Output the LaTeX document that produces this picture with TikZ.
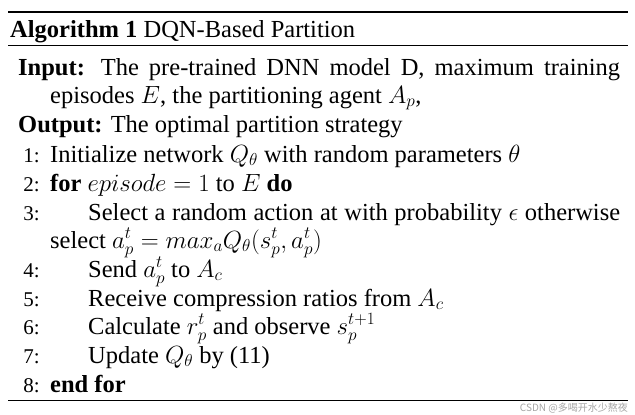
\documentclass[tikz,border=0pt]{standalone}
\usepackage{fontspec}
\setmainfont{Liberation Serif}
\newfontfamily\cjk{Noto Sans CJK SC}
\begin{document}
\begin{tikzpicture}[x=1pt,y=-1pt,
  tx/.style={anchor=base west,inner sep=0pt,font=\fontsize{24.5}{28}\selectfont},
  num/.style={anchor=base east,inner sep=0pt,font=\fontsize{21}{28}\selectfont}]
\useasboundingbox (0,0) rectangle (635,415);
\fill[white] (0,0) rectangle (635,415);
\draw[line width=1.6pt] (8,12) -- (628,12);
\draw[line width=0.8pt] (8,45) -- (628,45);
\draw[line width=0.8pt] (8,400) -- (628,400);
\node[tx] (h) at (10,37) {\textbf{Algorithm 1} DQN-Based Partition};
\node[tx] (in) at (18,75) {\makebox[602pt][s]{\textbf{Input:} The pre-trained DNN model D, maximum training}};
\node[tx] (in2) at (50,103) {episodes $E$, the partitioning agent $A_p$,};
\node[tx] (out) at (18,132) {\textbf{Output:} The optimal partition strategy};
\node[num] (n1) at (40,162) {1:};
\node[tx] (l1) at (50,162) {Initialize network $Q_\theta$ with random parameters $\theta$};
\node[num] (n2) at (40,191) {2:};
\node[tx] (l2) at (50,191) {\textbf{for} $episode=1$ to $E$ \textbf{do}};
\node[num] (n3) at (40,220) {3:};
\node[tx] (l3) at (88,220) {\makebox[532pt][s]{Select a random action at with probability $\epsilon$ otherwise}};
\node[tx] (l3b) at (50,248) {select $a_p^t=max_aQ_\theta(s_p^t,a_p^t)$};
\node[num] (n4) at (40,277) {4:};
\node[tx] (l4) at (88,277) {Send $a_p^t$ to $A_c$};
\node[num] (n5) at (40,306) {5:};
\node[tx] (l5) at (88,306) {Receive compression ratios from $A_c$};
\node[num] (n6) at (40,334) {6:};
\node[tx] (l6) at (88,334) {Calculate $r_p^t$ and observe $s_p^{t+1}$};
\node[num] (n7) at (40,363) {7:};
\node[tx] (l7) at (88,363) {Update $Q_\theta$ by (11)};
\node[num] (n8) at (40,392) {8:};
\node[tx] (l8) at (50,392) {\textbf{end for}};
\node[anchor=base east,inner sep=0pt,text=gray!70,font=\cjk\fontsize{10}{11}\selectfont] (wm) at (628,411) {CSDN @多喝开水少熬夜};
\end{tikzpicture}
\end{document}
